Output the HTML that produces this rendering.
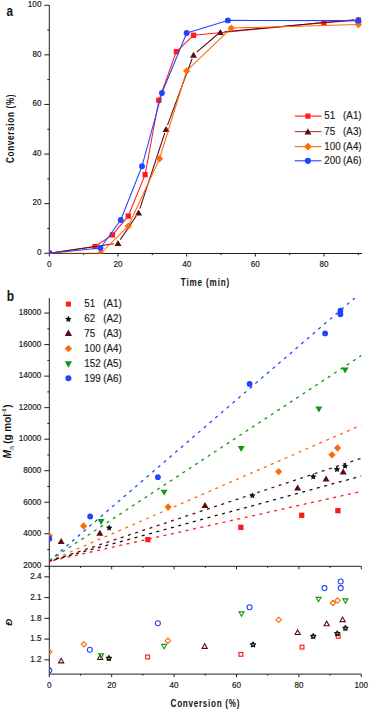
<!DOCTYPE html>
<html><head><meta charset="utf-8"><style>
html,body{margin:0;padding:0;background:#fff;width:369px;height:710px;overflow:hidden}
svg{display:block;font-family:"Liberation Sans", sans-serif}
</style></head><body>
<svg width="369" height="710" viewBox="0 0 369 710">
<text transform="translate(6.4,16.1) scale(0.8,1)" font-size="14.6" font-weight="bold" fill="#111">a</text>
<text transform="translate(6.7,300.9) scale(0.8,1)" font-size="15" font-weight="bold" fill="#111">b</text>
<path d="M49.3,5.2 V253.5 H362" fill="none" stroke="#1e1e1e" stroke-width="1"/>
<path d="M44.3,253.25 H49.3" stroke="#1e1e1e" stroke-width="1"/>
<text x="41.40" y="255.05" font-size="9.5" text-anchor="end" font-weight="normal" fill="#1a1a1a" stroke="#1a1a1a" stroke-width="0.2" textLength="4.51" lengthAdjust="spacingAndGlyphs">0</text>
<path d="M47.3,228.45 H49.3" stroke="#1e1e1e" stroke-width="1"/>
<path d="M44.3,203.65 H49.3" stroke="#1e1e1e" stroke-width="1"/>
<text x="41.40" y="205.45" font-size="9.5" text-anchor="end" font-weight="normal" fill="#1a1a1a" stroke="#1a1a1a" stroke-width="0.2" textLength="9.02" lengthAdjust="spacingAndGlyphs">20</text>
<path d="M47.3,178.85 H49.3" stroke="#1e1e1e" stroke-width="1"/>
<path d="M44.3,154.05 H49.3" stroke="#1e1e1e" stroke-width="1"/>
<text x="41.40" y="155.85" font-size="9.5" text-anchor="end" font-weight="normal" fill="#1a1a1a" stroke="#1a1a1a" stroke-width="0.2" textLength="9.02" lengthAdjust="spacingAndGlyphs">40</text>
<path d="M47.3,129.25 H49.3" stroke="#1e1e1e" stroke-width="1"/>
<path d="M44.3,104.45 H49.3" stroke="#1e1e1e" stroke-width="1"/>
<text x="41.40" y="106.25" font-size="9.5" text-anchor="end" font-weight="normal" fill="#1a1a1a" stroke="#1a1a1a" stroke-width="0.2" textLength="9.02" lengthAdjust="spacingAndGlyphs">60</text>
<path d="M47.3,79.65 H49.3" stroke="#1e1e1e" stroke-width="1"/>
<path d="M44.3,54.85 H49.3" stroke="#1e1e1e" stroke-width="1"/>
<text x="41.40" y="56.65" font-size="9.5" text-anchor="end" font-weight="normal" fill="#1a1a1a" stroke="#1a1a1a" stroke-width="0.2" textLength="9.02" lengthAdjust="spacingAndGlyphs">80</text>
<path d="M47.3,30.05 H49.3" stroke="#1e1e1e" stroke-width="1"/>
<path d="M44.3,5.25 H49.3" stroke="#1e1e1e" stroke-width="1"/>
<text x="41.40" y="7.05" font-size="9.5" text-anchor="end" font-weight="normal" fill="#1a1a1a" stroke="#1a1a1a" stroke-width="0.2" textLength="13.54" lengthAdjust="spacingAndGlyphs">100</text>
<path d="M49.30,253.5 V256.5" stroke="#1e1e1e" stroke-width="1"/>
<text x="49.30" y="266.90" font-size="9.5" text-anchor="middle" font-weight="normal" fill="#1a1a1a" stroke="#1a1a1a" stroke-width="0.2" textLength="4.51" lengthAdjust="spacingAndGlyphs">0</text>
<path d="M83.64,253.5 V255.1" stroke="#1e1e1e" stroke-width="1"/>
<path d="M117.98,253.5 V256.5" stroke="#1e1e1e" stroke-width="1"/>
<text x="117.98" y="266.90" font-size="9.5" text-anchor="middle" font-weight="normal" fill="#1a1a1a" stroke="#1a1a1a" stroke-width="0.2" textLength="9.02" lengthAdjust="spacingAndGlyphs">20</text>
<path d="M152.32,253.5 V255.1" stroke="#1e1e1e" stroke-width="1"/>
<path d="M186.66,253.5 V256.5" stroke="#1e1e1e" stroke-width="1"/>
<text x="186.66" y="266.90" font-size="9.5" text-anchor="middle" font-weight="normal" fill="#1a1a1a" stroke="#1a1a1a" stroke-width="0.2" textLength="9.02" lengthAdjust="spacingAndGlyphs">40</text>
<path d="M221.00,253.5 V255.1" stroke="#1e1e1e" stroke-width="1"/>
<path d="M255.34,253.5 V256.5" stroke="#1e1e1e" stroke-width="1"/>
<text x="255.34" y="266.90" font-size="9.5" text-anchor="middle" font-weight="normal" fill="#1a1a1a" stroke="#1a1a1a" stroke-width="0.2" textLength="9.02" lengthAdjust="spacingAndGlyphs">60</text>
<path d="M289.68,253.5 V255.1" stroke="#1e1e1e" stroke-width="1"/>
<path d="M324.02,253.5 V256.5" stroke="#1e1e1e" stroke-width="1"/>
<text x="324.02" y="266.90" font-size="9.5" text-anchor="middle" font-weight="normal" fill="#1a1a1a" stroke="#1a1a1a" stroke-width="0.2" textLength="9.02" lengthAdjust="spacingAndGlyphs">80</text>
<path d="M358.36,253.5 V255.1" stroke="#1e1e1e" stroke-width="1"/>
<text transform="translate(205,285.9) scale(0.78,1)" font-size="10.4" text-anchor="middle" font-weight="bold" fill="#141414" textLength="62.18" lengthAdjust="spacing">Time (min)</text>
<text transform="translate(14.1,128.75) rotate(-90) scale(0.78,1)" font-size="10.4" text-anchor="middle" font-weight="bold" fill="#141414" textLength="87.82" lengthAdjust="spacing">Conversion (%)</text>
<defs><clipPath id="ca"><rect x="49.3" y="0" width="320" height="253.5"/></clipPath><clipPath id="cb"><rect x="49.3" y="298" width="320" height="268"/></clipPath><clipPath id="cd"><rect x="49.3" y="566" width="320" height="108"/></clipPath></defs>
<g clip-path="url(#ca)">
<path d="M49.30,253.25 L94.97,246.55 L112.49,234.90 L128.28,216.05 L145.11,174.63 L158.84,100.23 L176.36,51.63 L193.53,35.26 L324.02,22.61 L358.36,20.13" fill="none" stroke="#ff1a1a" stroke-width="1.05" stroke-linejoin="round"/>
<rect x="46.65" y="250.60" width="5.30" height="5.30" fill="#ff1a1a"/>
<rect x="92.32" y="243.90" width="5.30" height="5.30" fill="#ff1a1a"/>
<rect x="109.84" y="232.25" width="5.30" height="5.30" fill="#ff1a1a"/>
<rect x="125.63" y="213.40" width="5.30" height="5.30" fill="#ff1a1a"/>
<rect x="142.46" y="171.98" width="5.30" height="5.30" fill="#ff1a1a"/>
<rect x="156.19" y="97.58" width="5.30" height="5.30" fill="#ff1a1a"/>
<rect x="173.71" y="48.98" width="5.30" height="5.30" fill="#ff1a1a"/>
<rect x="190.88" y="32.61" width="5.30" height="5.30" fill="#ff1a1a"/>
<rect x="321.37" y="19.96" width="5.30" height="5.30" fill="#ff1a1a"/>
<rect x="355.71" y="17.48" width="5.30" height="5.30" fill="#ff1a1a"/>
<path d="M49.30,253.25 L113.83,243.70" stroke="#5c0a14" stroke-width="1.05" fill="none"/>
<path d="M120.33,239.60 L136.23,216.06" stroke="#5c0a14" stroke-width="1.05" fill="none"/>
<path d="M139.90,208.59 L164.74,132.99" stroke="#5c0a14" stroke-width="1.05" fill="none"/>
<path d="M167.52,125.06 L192.07,58.79" stroke="#5c0a14" stroke-width="1.05" fill="none"/>
<path d="M196.73,52.13 L217.12,34.76" stroke="#5c0a14" stroke-width="1.05" fill="none"/>
<path d="M224.50,31.65 L354.18,19.77" stroke="#5c0a14" stroke-width="1.05" fill="none"/>
<polygon points="117.98,240.08 114.48,246.08 121.48,246.08" fill="#5c0a14"/>
<polygon points="138.58,209.58 135.08,215.58 142.08,215.58" fill="#5c0a14"/>
<polygon points="166.06,126.00 162.56,132.00 169.56,132.00" fill="#5c0a14"/>
<polygon points="193.53,51.85 190.03,57.85 197.03,57.85" fill="#5c0a14"/>
<polygon points="220.31,29.03 216.81,35.03 223.81,35.03" fill="#5c0a14"/>
<polygon points="358.36,16.39 354.86,22.39 361.86,22.39" fill="#5c0a14"/>
<path d="M49.30,253.25 L100.81,253.25 L128.28,226.22 L159.53,158.76 L186.66,70.97 L231.30,28.07 L358.36,24.59" fill="none" stroke="#ff6a0a" stroke-width="1.05" stroke-linejoin="round"/>
<polygon points="49.30,249.60 52.95,253.25 49.30,256.90 45.65,253.25" fill="#ff6a0a"/>
<polygon points="100.81,249.60 104.46,253.25 100.81,256.90 97.16,253.25" fill="#ff6a0a"/>
<polygon points="128.28,222.57 131.93,226.22 128.28,229.87 124.63,226.22" fill="#ff6a0a"/>
<polygon points="159.53,155.11 163.18,158.76 159.53,162.41 155.88,158.76" fill="#ff6a0a"/>
<polygon points="186.66,67.32 190.31,70.97 186.66,74.62 183.01,70.97" fill="#ff6a0a"/>
<polygon points="231.30,24.42 234.95,28.07 231.30,31.72 227.65,28.07" fill="#ff6a0a"/>
<polygon points="358.36,20.94 362.01,24.59 358.36,28.24 354.71,24.59" fill="#ff6a0a"/>
<path d="M49.30,253.25 L100.47,248.04 L120.73,220.02 L142.02,166.20 L161.94,93.04 L186.66,33.03 L227.87,20.38 L358.36,20.63" fill="none" stroke="#2244ff" stroke-width="1.05" stroke-linejoin="round"/>
<circle cx="49.30" cy="253.25" r="2.95" fill="#2244ff"/>
<circle cx="100.47" cy="248.04" r="2.95" fill="#2244ff"/>
<circle cx="120.73" cy="220.02" r="2.95" fill="#2244ff"/>
<circle cx="142.02" cy="166.20" r="2.95" fill="#2244ff"/>
<circle cx="161.94" cy="93.04" r="2.95" fill="#2244ff"/>
<circle cx="186.66" cy="33.03" r="2.95" fill="#2244ff"/>
<circle cx="227.87" cy="20.38" r="2.95" fill="#2244ff"/>
<circle cx="358.36" cy="20.63" r="2.95" fill="#2244ff"/>
</g>
<path d="M294.7,116.1 H321.5" stroke="#ff1a1a" stroke-width="1.1"/>
<rect x="305.30" y="113.50" width="5.20" height="5.20" fill="#ff1a1a"/>
<text x="324.30" y="119.35" font-size="11.0" text-anchor="start" font-weight="normal" fill="#1a1a1a" stroke="#1a1a1a" stroke-width="0.15" textLength="10.90" lengthAdjust="spacingAndGlyphs">51</text>
<text x="343.10" y="119.35" font-size="11.0" text-anchor="start" font-weight="normal" fill="#1a1a1a" stroke="#1a1a1a" stroke-width="0.15" textLength="18.51" lengthAdjust="spacingAndGlyphs">(A1)</text>
<path d="M294.7,131.6 H321.5" stroke="#8c4a50" stroke-width="1.1"/>
<polygon points="307.90,128.20 304.40,134.40 311.40,134.40" fill="#5c0a14"/>
<text x="324.30" y="134.85" font-size="11.0" text-anchor="start" font-weight="normal" fill="#1a1a1a" stroke="#1a1a1a" stroke-width="0.15" textLength="10.90" lengthAdjust="spacingAndGlyphs">75</text>
<text x="343.10" y="134.85" font-size="11.0" text-anchor="start" font-weight="normal" fill="#1a1a1a" stroke="#1a1a1a" stroke-width="0.15" textLength="18.51" lengthAdjust="spacingAndGlyphs">(A3)</text>
<path d="M294.7,146.6 H321.5" stroke="#ff6a0a" stroke-width="1.1"/>
<polygon points="307.90,142.80 311.70,146.60 307.90,150.40 304.10,146.60" fill="#ff6a0a"/>
<text x="324.30" y="149.85" font-size="11.0" text-anchor="start" font-weight="normal" fill="#1a1a1a" stroke="#1a1a1a" stroke-width="0.15" textLength="16.35" lengthAdjust="spacingAndGlyphs">100</text>
<text x="343.10" y="149.85" font-size="11.0" text-anchor="start" font-weight="normal" fill="#1a1a1a" stroke="#1a1a1a" stroke-width="0.15" textLength="18.51" lengthAdjust="spacingAndGlyphs">(A4)</text>
<path d="M294.7,160.8 H321.5" stroke="#2244ff" stroke-width="1.1"/>
<circle cx="307.90" cy="160.80" r="3.10" fill="#2244ff"/>
<text x="324.30" y="164.05" font-size="11.0" text-anchor="start" font-weight="normal" fill="#1a1a1a" stroke="#1a1a1a" stroke-width="0.15" textLength="16.35" lengthAdjust="spacingAndGlyphs">200</text>
<text x="343.10" y="164.05" font-size="11.0" text-anchor="start" font-weight="normal" fill="#1a1a1a" stroke="#1a1a1a" stroke-width="0.15" textLength="18.51" lengthAdjust="spacingAndGlyphs">(A6)</text>
<path d="M49.3,298 V674.1 H361.2" fill="none" stroke="#1e1e1e" stroke-width="1"/>
<path d="M49.3,566.3 H361.2" fill="none" stroke="#1e1e1e" stroke-width="1"/>
<path d="M44.3,566.30 H49.3" stroke="#1e1e1e" stroke-width="1"/>
<text x="41.30" y="567.59" font-size="9.5" text-anchor="end" font-weight="normal" fill="#1a1a1a" stroke="#1a1a1a" stroke-width="0.2" textLength="18.05" lengthAdjust="spacingAndGlyphs">2000</text>
<path d="M47.3,549.53 H49.3" stroke="#1e1e1e" stroke-width="1"/>
<path d="M44.3,533.77 H49.3" stroke="#1e1e1e" stroke-width="1"/>
<text x="41.30" y="536.07" font-size="9.5" text-anchor="end" font-weight="normal" fill="#1a1a1a" stroke="#1a1a1a" stroke-width="0.2" textLength="18.05" lengthAdjust="spacingAndGlyphs">4000</text>
<path d="M47.3,518.00 H49.3" stroke="#1e1e1e" stroke-width="1"/>
<path d="M44.3,502.24 H49.3" stroke="#1e1e1e" stroke-width="1"/>
<text x="41.30" y="504.54" font-size="9.5" text-anchor="end" font-weight="normal" fill="#1a1a1a" stroke="#1a1a1a" stroke-width="0.2" textLength="18.05" lengthAdjust="spacingAndGlyphs">6000</text>
<path d="M47.3,486.48 H49.3" stroke="#1e1e1e" stroke-width="1"/>
<path d="M44.3,470.71 H49.3" stroke="#1e1e1e" stroke-width="1"/>
<text x="41.30" y="473.01" font-size="9.5" text-anchor="end" font-weight="normal" fill="#1a1a1a" stroke="#1a1a1a" stroke-width="0.2" textLength="18.05" lengthAdjust="spacingAndGlyphs">8000</text>
<path d="M47.3,454.95 H49.3" stroke="#1e1e1e" stroke-width="1"/>
<path d="M44.3,439.19 H49.3" stroke="#1e1e1e" stroke-width="1"/>
<text x="41.30" y="441.49" font-size="9.5" text-anchor="end" font-weight="normal" fill="#1a1a1a" stroke="#1a1a1a" stroke-width="0.2" textLength="22.56" lengthAdjust="spacingAndGlyphs">10000</text>
<path d="M47.3,423.42 H49.3" stroke="#1e1e1e" stroke-width="1"/>
<path d="M44.3,407.66 H49.3" stroke="#1e1e1e" stroke-width="1"/>
<text x="41.30" y="409.96" font-size="9.5" text-anchor="end" font-weight="normal" fill="#1a1a1a" stroke="#1a1a1a" stroke-width="0.2" textLength="22.56" lengthAdjust="spacingAndGlyphs">12000</text>
<path d="M47.3,391.90 H49.3" stroke="#1e1e1e" stroke-width="1"/>
<path d="M44.3,376.13 H49.3" stroke="#1e1e1e" stroke-width="1"/>
<text x="41.30" y="378.43" font-size="9.5" text-anchor="end" font-weight="normal" fill="#1a1a1a" stroke="#1a1a1a" stroke-width="0.2" textLength="22.56" lengthAdjust="spacingAndGlyphs">14000</text>
<path d="M47.3,360.37 H49.3" stroke="#1e1e1e" stroke-width="1"/>
<path d="M44.3,344.61 H49.3" stroke="#1e1e1e" stroke-width="1"/>
<text x="41.30" y="346.91" font-size="9.5" text-anchor="end" font-weight="normal" fill="#1a1a1a" stroke="#1a1a1a" stroke-width="0.2" textLength="22.56" lengthAdjust="spacingAndGlyphs">16000</text>
<path d="M47.3,328.84 H49.3" stroke="#1e1e1e" stroke-width="1"/>
<path d="M44.3,313.08 H49.3" stroke="#1e1e1e" stroke-width="1"/>
<text x="41.30" y="315.38" font-size="9.5" text-anchor="end" font-weight="normal" fill="#1a1a1a" stroke="#1a1a1a" stroke-width="0.2" textLength="22.56" lengthAdjust="spacingAndGlyphs">18000</text>
<path d="M44.3,659.88 H49.3" stroke="#1e1e1e" stroke-width="1"/>
<text x="41.50" y="662.18" font-size="9.5" text-anchor="end" font-weight="normal" fill="#1a1a1a" stroke="#1a1a1a" stroke-width="0.2" textLength="11.27" lengthAdjust="spacingAndGlyphs">1.2</text>
<path d="M44.3,639.11 H49.3" stroke="#1e1e1e" stroke-width="1"/>
<text x="41.50" y="641.41" font-size="9.5" text-anchor="end" font-weight="normal" fill="#1a1a1a" stroke="#1a1a1a" stroke-width="0.2" textLength="11.27" lengthAdjust="spacingAndGlyphs">1.5</text>
<path d="M44.3,618.34 H49.3" stroke="#1e1e1e" stroke-width="1"/>
<text x="41.50" y="620.64" font-size="9.5" text-anchor="end" font-weight="normal" fill="#1a1a1a" stroke="#1a1a1a" stroke-width="0.2" textLength="11.27" lengthAdjust="spacingAndGlyphs">1.8</text>
<path d="M44.3,597.57 H49.3" stroke="#1e1e1e" stroke-width="1"/>
<text x="41.50" y="599.87" font-size="9.5" text-anchor="end" font-weight="normal" fill="#1a1a1a" stroke="#1a1a1a" stroke-width="0.2" textLength="11.27" lengthAdjust="spacingAndGlyphs">2.1</text>
<path d="M44.3,576.80 H49.3" stroke="#1e1e1e" stroke-width="1"/>
<text x="41.50" y="579.10" font-size="9.5" text-anchor="end" font-weight="normal" fill="#1a1a1a" stroke="#1a1a1a" stroke-width="0.2" textLength="11.27" lengthAdjust="spacingAndGlyphs">2.4</text>
<path d="M49.30,566.3 V569.3" stroke="#1e1e1e" stroke-width="1"/>
<path d="M49.30,674.1 V677.1" stroke="#1e1e1e" stroke-width="1"/>
<text x="49.30" y="687.70" font-size="9.5" text-anchor="middle" font-weight="normal" fill="#1a1a1a" stroke="#1a1a1a" stroke-width="0.2" textLength="4.51" lengthAdjust="spacingAndGlyphs">0</text>
<path d="M80.50,566.3 V567.9" stroke="#1e1e1e" stroke-width="1"/>
<path d="M80.50,674.1 V675.7" stroke="#1e1e1e" stroke-width="1"/>
<path d="M111.70,566.3 V569.3" stroke="#1e1e1e" stroke-width="1"/>
<path d="M111.70,674.1 V677.1" stroke="#1e1e1e" stroke-width="1"/>
<text x="111.70" y="687.70" font-size="9.5" text-anchor="middle" font-weight="normal" fill="#1a1a1a" stroke="#1a1a1a" stroke-width="0.2" textLength="9.02" lengthAdjust="spacingAndGlyphs">20</text>
<path d="M142.90,566.3 V567.9" stroke="#1e1e1e" stroke-width="1"/>
<path d="M142.90,674.1 V675.7" stroke="#1e1e1e" stroke-width="1"/>
<path d="M174.10,566.3 V569.3" stroke="#1e1e1e" stroke-width="1"/>
<path d="M174.10,674.1 V677.1" stroke="#1e1e1e" stroke-width="1"/>
<text x="174.10" y="687.70" font-size="9.5" text-anchor="middle" font-weight="normal" fill="#1a1a1a" stroke="#1a1a1a" stroke-width="0.2" textLength="9.02" lengthAdjust="spacingAndGlyphs">40</text>
<path d="M205.30,566.3 V567.9" stroke="#1e1e1e" stroke-width="1"/>
<path d="M205.30,674.1 V675.7" stroke="#1e1e1e" stroke-width="1"/>
<path d="M236.50,566.3 V569.3" stroke="#1e1e1e" stroke-width="1"/>
<path d="M236.50,674.1 V677.1" stroke="#1e1e1e" stroke-width="1"/>
<text x="236.50" y="687.70" font-size="9.5" text-anchor="middle" font-weight="normal" fill="#1a1a1a" stroke="#1a1a1a" stroke-width="0.2" textLength="9.02" lengthAdjust="spacingAndGlyphs">60</text>
<path d="M267.70,566.3 V567.9" stroke="#1e1e1e" stroke-width="1"/>
<path d="M267.70,674.1 V675.7" stroke="#1e1e1e" stroke-width="1"/>
<path d="M298.90,566.3 V569.3" stroke="#1e1e1e" stroke-width="1"/>
<path d="M298.90,674.1 V677.1" stroke="#1e1e1e" stroke-width="1"/>
<text x="298.90" y="687.70" font-size="9.5" text-anchor="middle" font-weight="normal" fill="#1a1a1a" stroke="#1a1a1a" stroke-width="0.2" textLength="9.02" lengthAdjust="spacingAndGlyphs">80</text>
<path d="M330.10,566.3 V567.9" stroke="#1e1e1e" stroke-width="1"/>
<path d="M330.10,674.1 V675.7" stroke="#1e1e1e" stroke-width="1"/>
<path d="M361.30,566.3 V569.3" stroke="#1e1e1e" stroke-width="1"/>
<path d="M361.30,674.1 V677.1" stroke="#1e1e1e" stroke-width="1"/>
<text x="361.30" y="687.70" font-size="9.5" text-anchor="middle" font-weight="normal" fill="#1a1a1a" stroke="#1a1a1a" stroke-width="0.2" textLength="13.54" lengthAdjust="spacingAndGlyphs">100</text>
<text transform="translate(205,706.8) scale(0.78,1)" font-size="10.4" text-anchor="middle" font-weight="bold" fill="#141414" textLength="88.21" lengthAdjust="spacing">Conversion (%)</text>
<text transform="translate(11.2,458.6) rotate(-90)" font-size="10" text-anchor="start" font-weight="bold" fill="#141414"><tspan font-style="italic" font-size="10.2">M</tspan><tspan font-size="6.4" dy="2.8" dx="0.3" font-weight="normal">n</tspan><tspan dy="-2.8" dx="-0.4"> (g mol</tspan><tspan font-size="5.8" dy="-5.0" dx="0.1" font-weight="bold">-1</tspan><tspan dy="5.0" dx="0.8">)</tspan></text>
<text transform="translate(12.0,622.3) rotate(-90)" font-size="9.8" text-anchor="middle" font-weight="bold" font-style="italic" fill="#141414">Đ</text>
<g clip-path="url(#cb)">
<path d="M49.3,561.00 L361.2,292.42" stroke="#2244ff" stroke-width="1.3" stroke-dasharray="3.0 4.56" stroke-dashoffset="0.15" fill="none"/>
<path d="M49.3,560.60 L361.2,355.65" stroke="#0e9a0e" stroke-width="1.3" stroke-dasharray="3.0 4.56" stroke-dashoffset="6.95" fill="none"/>
<path d="M49.3,561.20 L361.2,425.12" stroke="#ff6a0a" stroke-width="1.3" stroke-dasharray="3.0 4.56" stroke-dashoffset="0.25" fill="none"/>
<path d="M49.3,561.40 L361.2,458.29" stroke="#5c0a14" stroke-width="1.3" stroke-dasharray="3.0 4.56" stroke-dashoffset="0.35" fill="none"/>
<path d="M49.3,561.00 L361.2,476.13" stroke="#111" stroke-width="1.3" stroke-dasharray="3.0 4.56" stroke-dashoffset="2.45" fill="none"/>
<path d="M49.3,561.30 L361.2,491.47" stroke="#ff1a1a" stroke-width="1.3" stroke-dasharray="3.0 4.56" stroke-dashoffset="3.95" fill="none"/>
<rect x="145.24" y="536.96" width="5.30" height="5.30" fill="#ff1a1a"/>
<rect x="238.22" y="524.64" width="5.30" height="5.30" fill="#ff1a1a"/>
<rect x="299.06" y="512.65" width="5.30" height="5.30" fill="#ff1a1a"/>
<rect x="335.25" y="508.04" width="5.30" height="5.30" fill="#ff1a1a"/>
<polygon points="109.20,524.49 110.20,526.52 112.44,526.84 110.82,528.42 111.20,530.65 109.20,529.59 107.21,530.65 107.59,528.42 105.97,526.84 108.20,526.52" fill="#111"/>
<polygon points="252.41,492.20 253.41,494.22 255.65,494.55 254.03,496.12 254.41,498.35 252.41,497.30 250.41,498.35 250.80,496.12 249.18,494.55 251.41,494.22" fill="#111"/>
<polygon points="313.25,473.30 314.25,475.33 316.49,475.65 314.87,477.23 315.25,479.45 313.25,478.40 311.25,479.45 311.64,477.23 310.02,475.65 312.25,475.33" fill="#111"/>
<polygon points="336.96,466.01 337.96,468.03 340.20,468.35 338.58,469.93 338.96,472.16 336.96,471.11 334.97,472.16 335.35,469.93 333.73,468.35 335.96,468.03" fill="#111"/>
<polygon points="345.08,462.60 346.08,464.63 348.31,464.95 346.69,466.53 347.07,468.75 345.08,467.70 343.08,468.75 343.46,466.53 341.84,464.95 344.08,464.63" fill="#111"/>
<polygon points="61.16,538.11 57.66,544.11 64.66,544.11" fill="#5c0a14"/>
<polygon points="99.84,529.80 96.34,535.80 103.34,535.80" fill="#5c0a14"/>
<polygon points="204.99,502.00 201.49,508.00 208.49,508.00" fill="#5c0a14"/>
<polygon points="297.65,484.49 294.15,490.49 301.15,490.49" fill="#5c0a14"/>
<polygon points="326.04,475.60 322.54,481.60 329.54,481.60" fill="#5c0a14"/>
<polygon points="343.20,468.40 339.70,474.40 346.70,474.40" fill="#5c0a14"/>
<polygon points="49.30,532.16 52.95,535.81 49.30,539.46 45.65,535.81" fill="#ff6a0a"/>
<polygon points="83.62,522.35 87.27,526.00 83.62,529.65 79.97,526.00" fill="#ff6a0a"/>
<polygon points="168.17,503.36 171.82,507.01 168.17,510.66 164.52,507.01" fill="#ff6a0a"/>
<polygon points="278.62,468.05 282.27,471.70 278.62,475.35 274.97,471.70" fill="#ff6a0a"/>
<polygon points="331.97,451.15 335.62,454.80 331.97,458.45 328.32,454.80" fill="#ff6a0a"/>
<polygon points="337.59,444.36 341.24,448.01 337.59,451.66 333.94,448.01" fill="#ff6a0a"/>
<polygon points="101.09,525.01 97.59,519.01 104.59,519.01" fill="#0e9a0e"/>
<polygon points="164.12,495.70 160.62,489.70 167.62,489.70" fill="#0e9a0e"/>
<polygon points="241.18,451.90 237.68,445.90 244.68,445.90" fill="#0e9a0e"/>
<polygon points="318.87,412.40 315.37,406.40 322.37,406.40" fill="#0e9a0e"/>
<polygon points="345.08,373.44 341.58,367.44 348.58,367.44" fill="#0e9a0e"/>
<circle cx="49.30" cy="538.70" r="2.90" fill="#2244ff"/>
<circle cx="90.17" cy="516.50" r="2.90" fill="#2244ff"/>
<circle cx="157.88" cy="477.21" r="2.90" fill="#2244ff"/>
<circle cx="249.60" cy="383.89" r="2.90" fill="#2244ff"/>
<circle cx="325.11" cy="333.41" r="2.90" fill="#2244ff"/>
<circle cx="340.40" cy="310.70" r="2.90" fill="#2244ff"/>
<circle cx="340.40" cy="314.26" r="2.90" fill="#2244ff"/>
</g>
<rect x="65.90" y="301.60" width="5.00" height="5.00" fill="#ff1a1a"/>
<text x="84.30" y="307.35" font-size="11.0" text-anchor="start" font-weight="normal" fill="#1a1a1a" stroke="#1a1a1a" stroke-width="0.15" textLength="10.90" lengthAdjust="spacingAndGlyphs">51</text>
<text x="103.20" y="307.35" font-size="11.0" text-anchor="start" font-weight="normal" fill="#1a1a1a" stroke="#1a1a1a" stroke-width="0.15" textLength="18.51" lengthAdjust="spacingAndGlyphs">(A1)</text>
<polygon points="68.40,315.80 69.40,317.82 71.63,318.15 70.02,319.73 70.40,321.95 68.40,320.90 66.40,321.95 66.78,319.73 65.17,318.15 67.40,317.82" fill="#111"/>
<text x="84.30" y="322.15" font-size="11.0" text-anchor="start" font-weight="normal" fill="#1a1a1a" stroke="#1a1a1a" stroke-width="0.15" textLength="10.90" lengthAdjust="spacingAndGlyphs">62</text>
<text x="103.20" y="322.15" font-size="11.0" text-anchor="start" font-weight="normal" fill="#1a1a1a" stroke="#1a1a1a" stroke-width="0.15" textLength="18.51" lengthAdjust="spacingAndGlyphs">(A2)</text>
<polygon points="68.40,329.50 64.75,335.90 72.05,335.90" fill="#5c0a14"/>
<text x="84.30" y="336.65" font-size="11.0" text-anchor="start" font-weight="normal" fill="#1a1a1a" stroke="#1a1a1a" stroke-width="0.15" textLength="10.90" lengthAdjust="spacingAndGlyphs">75</text>
<text x="103.20" y="336.65" font-size="11.0" text-anchor="start" font-weight="normal" fill="#1a1a1a" stroke="#1a1a1a" stroke-width="0.15" textLength="18.51" lengthAdjust="spacingAndGlyphs">(A3)</text>
<polygon points="68.40,344.90 72.10,348.60 68.40,352.30 64.70,348.60" fill="#ff6a0a"/>
<text x="84.30" y="351.85" font-size="11.0" text-anchor="start" font-weight="normal" fill="#1a1a1a" stroke="#1a1a1a" stroke-width="0.15" textLength="16.35" lengthAdjust="spacingAndGlyphs">100</text>
<text x="103.20" y="351.85" font-size="11.0" text-anchor="start" font-weight="normal" fill="#1a1a1a" stroke="#1a1a1a" stroke-width="0.15" textLength="18.51" lengthAdjust="spacingAndGlyphs">(A4)</text>
<polygon points="68.40,367.70 64.75,361.30 72.05,361.30" fill="#0e9a0e"/>
<text x="84.30" y="366.55" font-size="11.0" text-anchor="start" font-weight="normal" fill="#1a1a1a" stroke="#1a1a1a" stroke-width="0.15" textLength="16.35" lengthAdjust="spacingAndGlyphs">152</text>
<text x="103.20" y="366.55" font-size="11.0" text-anchor="start" font-weight="normal" fill="#1a1a1a" stroke="#1a1a1a" stroke-width="0.15" textLength="18.51" lengthAdjust="spacingAndGlyphs">(A5)</text>
<circle cx="68.40" cy="378.30" r="3.00" fill="#2244ff"/>
<text x="84.30" y="381.55" font-size="11.0" text-anchor="start" font-weight="normal" fill="#1a1a1a" stroke="#1a1a1a" stroke-width="0.15" textLength="16.35" lengthAdjust="spacingAndGlyphs">199</text>
<text x="103.20" y="381.55" font-size="11.0" text-anchor="start" font-weight="normal" fill="#1a1a1a" stroke="#1a1a1a" stroke-width="0.15" textLength="18.51" lengthAdjust="spacingAndGlyphs">(A6)</text>
<g clip-path="url(#cd)">
<rect x="145.68" y="655.04" width="3.80" height="3.80" fill="none" stroke="#ff1a1a" stroke-width="1.15"/>
<rect x="238.97" y="652.47" width="3.80" height="3.80" fill="none" stroke="#ff1a1a" stroke-width="1.15"/>
<rect x="300.12" y="645.18" width="3.80" height="3.80" fill="none" stroke="#ff1a1a" stroke-width="1.15"/>
<rect x="336.31" y="634.42" width="3.80" height="3.80" fill="none" stroke="#ff1a1a" stroke-width="1.15"/>
<polygon points="108.89,655.75 109.63,657.24 111.27,657.48 110.08,658.64 110.36,660.28 108.89,659.50 107.42,660.28 107.70,658.64 106.51,657.48 108.16,657.24" fill="none" stroke="#111" stroke-width="1.45" stroke-linejoin="round"/>
<polygon points="253.04,642.15 253.77,643.64 255.41,643.88 254.22,645.04 254.51,646.67 253.04,645.90 251.57,646.67 251.85,645.04 250.66,643.88 252.30,643.64" fill="none" stroke="#111" stroke-width="1.45" stroke-linejoin="round"/>
<polygon points="313.25,633.82 313.99,635.31 315.63,635.55 314.44,636.71 314.72,638.35 313.25,637.57 311.78,638.35 312.06,636.71 310.87,635.55 312.52,635.31" fill="none" stroke="#111" stroke-width="1.45" stroke-linejoin="round"/>
<polygon points="337.28,631.05 338.01,632.54 339.65,632.78 338.46,633.93 338.75,635.57 337.28,634.80 335.81,635.57 336.09,633.93 334.90,632.78 336.54,632.54" fill="none" stroke="#111" stroke-width="1.45" stroke-linejoin="round"/>
<polygon points="345.39,625.70 346.12,627.19 347.77,627.43 346.58,628.59 346.86,630.23 345.39,629.45 343.92,630.23 344.20,628.59 343.01,627.43 344.65,627.19" fill="none" stroke="#111" stroke-width="1.45" stroke-linejoin="round"/>
<polygon points="61.16,658.31 58.56,662.91 63.76,662.91" fill="none" stroke="#5c0a14" stroke-width="1.1" stroke-linejoin="miter"/>
<polygon points="100.16,654.84 97.56,659.44 102.76,659.44" fill="none" stroke="#5c0a14" stroke-width="1.1" stroke-linejoin="miter"/>
<polygon points="204.68,643.74 202.08,648.34 207.28,648.34" fill="none" stroke="#5c0a14" stroke-width="1.1" stroke-linejoin="miter"/>
<polygon points="297.65,629.86 295.05,634.46 300.25,634.46" fill="none" stroke="#5c0a14" stroke-width="1.1" stroke-linejoin="miter"/>
<polygon points="326.67,621.18 324.07,625.78 329.27,625.78" fill="none" stroke="#5c0a14" stroke-width="1.1" stroke-linejoin="miter"/>
<polygon points="342.58,617.02 339.98,621.62 345.18,621.62" fill="none" stroke="#5c0a14" stroke-width="1.1" stroke-linejoin="miter"/>
<polygon points="49.30,649.17 52.00,651.87 49.30,654.57 46.60,651.87" fill="none" stroke="#ff6a0a" stroke-width="1.1"/>
<polygon points="83.93,641.60 86.63,644.30 83.93,647.00 81.23,644.30" fill="none" stroke="#ff6a0a" stroke-width="1.1"/>
<polygon points="167.86,638.00 170.56,640.70 167.86,643.40 165.16,640.70" fill="none" stroke="#ff6a0a" stroke-width="1.1"/>
<polygon points="278.62,617.11 281.32,619.81 278.62,622.51 275.92,619.81" fill="none" stroke="#ff6a0a" stroke-width="1.1"/>
<polygon points="332.91,600.31 335.61,603.01 332.91,605.71 330.21,603.01" fill="none" stroke="#ff6a0a" stroke-width="1.1"/>
<polygon points="337.59,597.88 340.29,600.58 337.59,603.28 334.89,600.58" fill="none" stroke="#ff6a0a" stroke-width="1.1"/>
<polygon points="101.09,658.23 98.59,653.83 103.59,653.83" fill="none" stroke="#0e9a0e" stroke-width="1.1" stroke-linejoin="miter"/>
<polygon points="164.12,648.80 161.62,644.40 166.62,644.40" fill="none" stroke="#0e9a0e" stroke-width="1.1" stroke-linejoin="miter"/>
<polygon points="241.49,616.32 238.99,611.92 243.99,611.92" fill="none" stroke="#0e9a0e" stroke-width="1.1" stroke-linejoin="miter"/>
<polygon points="318.56,601.74 316.06,597.34 321.06,597.34" fill="none" stroke="#0e9a0e" stroke-width="1.1" stroke-linejoin="miter"/>
<polygon points="345.39,603.27 342.89,598.87 347.89,598.87" fill="none" stroke="#0e9a0e" stroke-width="1.1" stroke-linejoin="miter"/>
<circle cx="49.30" cy="670.33" r="2.50" fill="none" stroke="#2244ff" stroke-width="1.1"/>
<circle cx="89.86" cy="649.79" r="2.50" fill="none" stroke="#2244ff" stroke-width="1.1"/>
<circle cx="157.88" cy="623.28" r="2.50" fill="none" stroke="#2244ff" stroke-width="1.1"/>
<circle cx="249.60" cy="607.18" r="2.50" fill="none" stroke="#2244ff" stroke-width="1.1"/>
<circle cx="324.48" cy="588.09" r="2.50" fill="none" stroke="#2244ff" stroke-width="1.1"/>
<circle cx="340.71" cy="581.50" r="2.50" fill="none" stroke="#2244ff" stroke-width="1.1"/>
<circle cx="340.71" cy="588.09" r="2.50" fill="none" stroke="#2244ff" stroke-width="1.1"/>
</g>
</svg>
</body></html>
